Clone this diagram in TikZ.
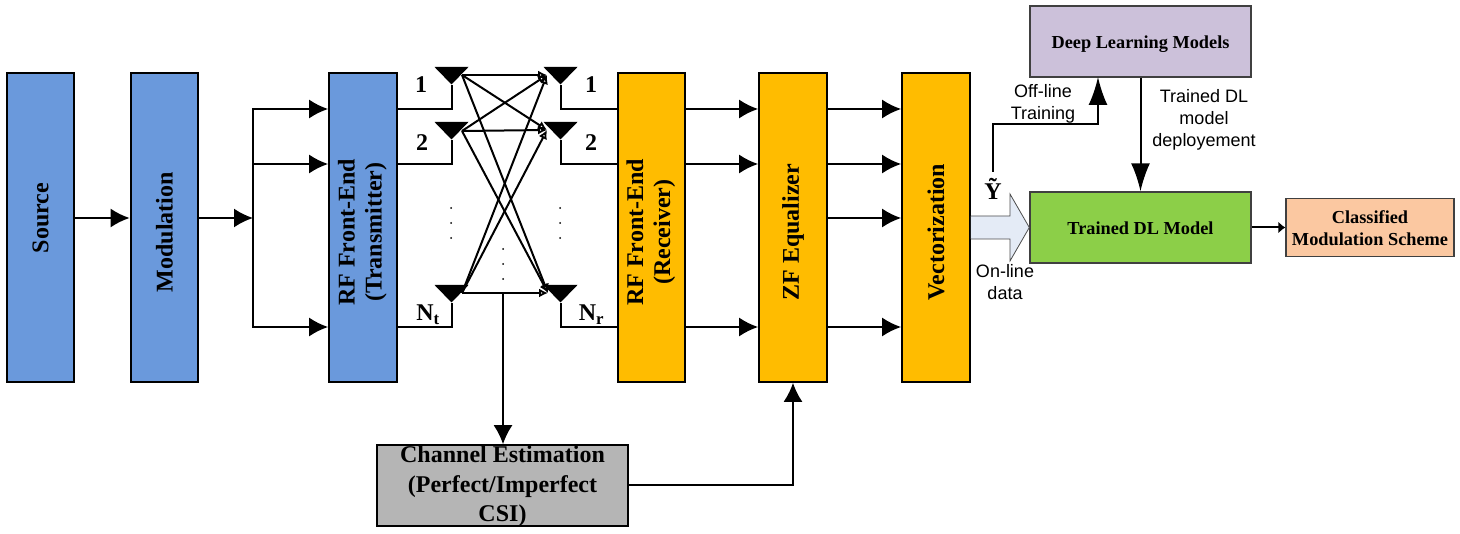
\documentclass[tikz,border=0pt]{standalone}
\usepackage{fontspec}
\setmainfont{Liberation Serif}
\newfontfamily\labelfont{Liberation Sans}
\usetikzlibrary{arrows.meta, shapes.geometric}
\definecolor{txblue}{HTML}{6A99DC}
\definecolor{rxorange}{HTML}{FFBC00}
\definecolor{estgray}{HTML}{B5B5B5}
\definecolor{dlpurple}{HTML}{CCC1DA}
\definecolor{dlgreen}{HTML}{8CCF48}
\definecolor{outpeach}{HTML}{FBC8A1}
\definecolor{datablue}{HTML}{E4EBF6}
\newcommand{\uplabel}[1]{\rotatebox{90}{#1\hspace*{10pt}}}
\newcommand{\twolines}[2]{\begin{tabular}{@{}c@{}}#1\\[1pt]#2\end{tabular}}
\tikzset{
    bluebox/.style={draw, line width=2.2pt, fill=txblue, minimum width=67.5pt, minimum height=309pt, inner sep=0pt, font=\fontsize{24}{26}\selectfont\bfseries, align=center},
    orangebox/.style={bluebox, fill=rxorange},
    softbox/.style={draw=black!75, line width=1.4pt, inner sep=0pt, font=\fontsize{18.3}{22}\selectfont\bfseries, align=center},
    antenna/.style={isosceles triangle, isosceles triangle stretches, shape border rotate=-90, fill=black, minimum width=34pt, minimum height=17.5pt, inner sep=0pt, anchor=apex},
    sanstext/.style={font=\labelfont\fontsize{18}{22}\selectfont, align=center, inner sep=0pt},
    numtext/.style={font=\fontsize{24}{26}\selectfont\bfseries, inner sep=0pt},
    dotmark/.style={circle, fill=black, minimum size=2pt, inner sep=0pt},
    arr/.style={-{Latex[length=19pt, width=19pt]}, line width=2pt},
    bigarr/.style={-{Latex[length=28pt, width=19pt]}, line width=2pt},
    smallarr/.style={-{Latex[length=7pt, width=12pt]}, line width=2pt},
    link/.style={-{Latex[open, length=9pt, width=9pt]}, line width=2pt},
    feed/.style={line width=2pt}
}
\begin{document}
\begin{tikzpicture}[x=1pt, y=-1pt]
    \useasboundingbox (0, 0) rectangle (1460, 534);

    \node[bluebox] (source) at (40.5, 227.2) {\rotatebox{90}{\hspace*{18pt}Source}};
    \node[bluebox] (modulation) at (164.5, 227.2) {\uplabel{Modulation}};
    \node[bluebox] (rftx) at (363, 227.2) {\uplabel{\twolines{RF Front-End}{(Transmitter)}}};
    \node[orangebox] (rfrx) at (651.5, 227.2) {\uplabel{\twolines{RF Front-End}{(Receiver)}}};
    \node[orangebox] (zf) at (793, 227.2) {\uplabel{ZF Equalizer}};
    \node[orangebox] (vector) at (936, 227.2) {\uplabel{Vectorization}};

    \node[draw, line width=2pt, fill=estgray, minimum width=251pt, minimum height=80.5pt, inner sep=0pt, font=\fontsize{24}{29.5}\selectfont\bfseries] (channel) at (502.5, 485.5) {\raisebox{22.5pt}[0pt][0pt]{\begin{tabular}[t]{@{}c@{}}Channel Estimation\\(Perfect/Imperfect\\CSI)\end{tabular}}};
    \node[softbox, fill=dlpurple, minimum width=221pt, minimum height=71pt] (dlmodels) at (1140.5, 41.5) {\raisebox{-7.5pt}[0pt][0pt]{Deep Learning Models}};
    \node[softbox, fill=dlgreen, minimum width=221pt, minimum height=71pt] (trained) at (1140.5, 227.5) {\raisebox{-7.5pt}[0pt][0pt]{Trained DL Model}};
    \node[softbox, fill=outpeach, minimum width=168pt, minimum height=58pt] (classified) at (1370, 227.5) {\rule{0pt}{14.5pt}Classified\\Modulation Scheme};

    \coordinate (row1) at (0, 109);
    \coordinate (row2) at (0, 164);
    \coordinate (row3) at (0, 218);
    \coordinate (row4) at (0, 327);
    \coordinate (bus) at (253, 218);

    \node[antenna] (t1) at (451.5, 85) {};
    \node[antenna] (t2) at (451.5, 140) {};
    \node[antenna] (tn) at (451.5, 303) {};
    \node[antenna] (r1) at (560.5, 85) {};
    \node[antenna] (r2) at (560.5, 140) {};
    \node[antenna] (rn) at (560.5, 303) {};

    % links between the antennas
    \coordinate (t1out) at (462, 75);
    \coordinate (t2out) at (462, 131);
    \coordinate (tnout) at (462, 293);
    \coordinate (r1in) at (547, 75);
    \coordinate (r2in) at (547, 130);
    \coordinate (rnin) at (548, 293);
    \coordinate (tap) at (503, 293);

    \draw [arr] (source.east|-row3) -- (modulation.west|-row3);
    \draw [arr] (modulation.east|-row3) -- (bus);
    \draw [arr] (bus) |- (rftx.west|-row1);
    \draw [arr] (bus) |- (rftx.west|-row2);
    \draw [arr] (bus) |- (rftx.west|-row4);

    \draw [feed] (t1.apex) |- (rftx.east|-row1);
    \draw [feed] (t2.apex) |- (rftx.east|-row2);
    \draw [feed] (tn.apex) |- (rftx.east|-row4);
    \draw [feed] (r1.apex) |- (rfrx.west|-row1);
    \draw [feed] (r2.apex) |- (rfrx.west|-row2);
    \draw [feed] (rn.apex) |- (rfrx.west|-row4);

    \draw [link] (t1out) -- (r1in);
    \draw [link] (t1out) -- (r2in);
    \draw [link] (t1out) -- (rnin);
    \draw [link] (t2out) -- (r1in);
    \draw [link] (t2out) -- (r2in);
    \draw [link] (t2out) -- (rnin);
    \draw [link] (tnout) -- (r1in);
    \draw [link] (tnout) -- (r2in);
    \draw [link] (tnout) -- (rnin);
    \draw [arr] (tap) -- (channel.north-|tap);

    \draw [arr] (rfrx.east|-row1) -- (zf.west|-row1);
    \draw [arr] (rfrx.east|-row2) -- (zf.west|-row2);
    \draw [arr] (rfrx.east|-row4) -- (zf.west|-row4);
    \draw [arr] (zf.east|-row1) -- (vector.west|-row1);
    \draw [arr] (zf.east|-row2) -- (vector.west|-row2);
    \draw [arr] (zf.east|-row3) -- (vector.west|-row3);
    \draw [arr] (zf.east|-row4) -- (vector.west|-row4);
    \draw [arr] (channel.east) -| (zf.south);

    % block arrow into the trained model
    \filldraw [fill=datablue, draw=black!70, line width=0.8pt] (vector.east|-0,216) -- (1010, 216) -- (1010, 194) -- (trained.west) -- (1010, 261) -- (1010, 239) -- (vector.east|-0,239);

    \node[font=\fontsize{24}{26}\selectfont\bfseries, inner sep=0pt] (ytilde) at (993, 189) {Ỹ};
    \coordinate (offstart) at (993, 172);
    \coordinate (offend) at (1098, 77);
    \draw [bigarr] (offstart) |- (1098, 124) -- (offend);
    \draw [bigarr] (dlmodels.south) -- (trained.north);
    \draw [smallarr] (trained.east) -- (classified.west);

    \node[sanstext] (offline) at (1043, 104) {Off-line\\Training};
    \node[sanstext] (deploy) at (1204, 120) {Trained DL\\model\\deployement};
    \node[sanstext] (online) at (1005, 282) {On-line\\data};

    \node[numtext] (n1) at (421, 85) {1};
    \node[numtext] (n2) at (422, 143) {2};
    \node[numtext] (nt) at (428, 315) {N\textsubscript{t}};
    \node[numtext] (m1) at (591, 85) {1};
    \node[numtext] (m2) at (591, 143) {2};
    \node[numtext] (nr) at (591.5, 315) {N\textsubscript{r}};

    \foreach \ypos in {208, 223, 238} {
        \node[dotmark] at (451, \ypos) {};
        \node[dotmark] at (560, \ypos) {};
    }
    \foreach \ypos in {249, 264, 279} {
        \node[dotmark] at (503, \ypos) {};
    }
\end{tikzpicture}
\end{document}
